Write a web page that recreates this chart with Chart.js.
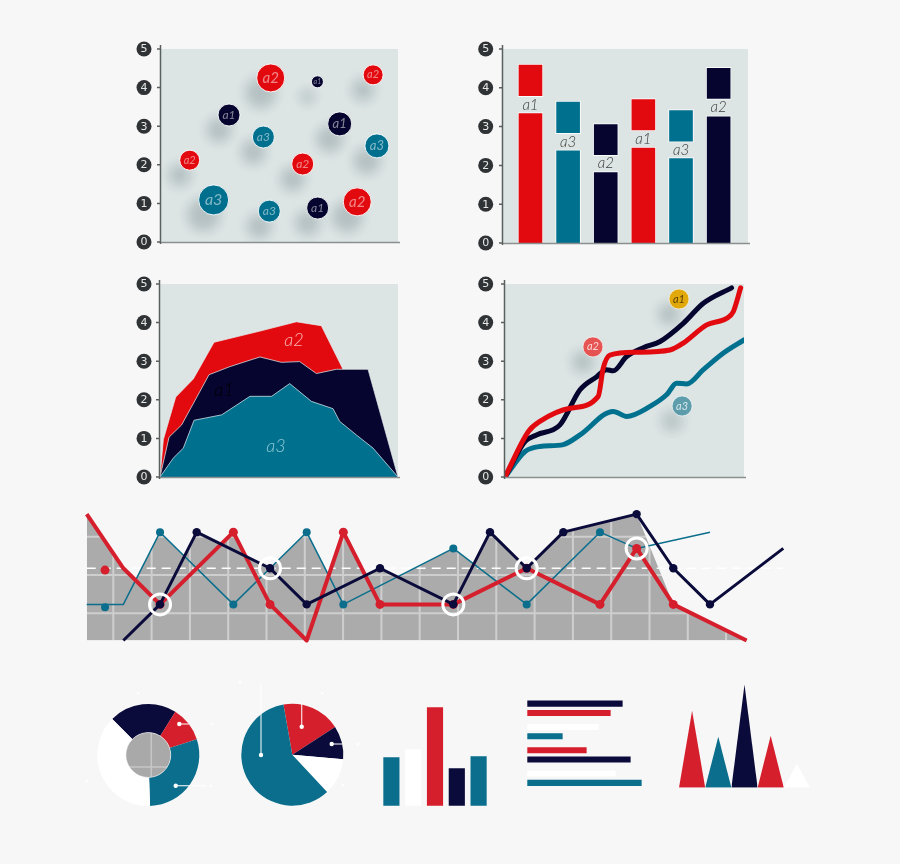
<!DOCTYPE html>
<html>
<head>
<meta charset="utf-8">
<script src="https://cdn.jsdelivr.net/npm/chart.js@4.4.0/dist/chart.umd.min.js"></script>
<style>
  html, body { margin: 0; padding: 0; background: #f7f7f7; }
  #stage { position: relative; width: 900px; height: 864px; overflow: hidden; background: #f7f7f7; }
  canvas { position: absolute; }
</style>
</head>
<body>
<div id="stage">
  <canvas id="bubbles" width="280" height="220" style="left:130px;top:35px"></canvas>
  <canvas id="splitBars" width="290" height="220" style="left:470px;top:35px"></canvas>
  <canvas id="areas" width="280" height="220" style="left:130px;top:272px"></canvas>
  <canvas id="curves" width="290" height="220" style="left:470px;top:272px"></canvas>
  <canvas id="zigzag" width="720" height="150" style="left:80px;top:500px"></canvas>
  <canvas id="donut" width="140" height="140" style="left:85px;top:680px"></canvas>
  <canvas id="pie" width="140" height="140" style="left:225px;top:680px"></canvas>
  <canvas id="smallBars" width="120" height="115" style="left:375px;top:695px"></canvas>
  <canvas id="hBars" width="130" height="95" style="left:520px;top:695px"></canvas>
  <canvas id="peaks" width="150" height="120" style="left:670px;top:675px"></canvas>
</div>
<script>
// ---- data ----
var yTicks = [0, 1, 2, 3, 4, 5];

// bubbles (top left)
var bubbleSeries = ['a2', 'a1', 'a2', 'a1', 'a1', 'a3', 'a3', 'a2', 'a2', 'a3', 'a3', 'a1', 'a2'];
var bubbleX = [4.63, 6.6, 8.95, 2.87, 7.54, 4.32, 9.11, 1.21, 5.98, 2.22, 4.57, 6.61, 8.28];
var bubbleY = [4.25, 4.15, 4.33, 3.29, 3.06, 2.72, 2.49, 2.12, 2.02, 1.09, 0.80, 0.88, 1.04];
var bubbleSize = [14, 6, 10, 11, 12, 11, 12, 10, 11, 15, 11, 11, 14];

// split bars (top right)
var barSeries = ['a1', 'a3', 'a2', 'a1', 'a3', 'a2'];
var barLower = [3.36, 2.40, 1.84, 2.47, 2.20, 3.28];
var barUpperFrom = [3.77, 2.82, 2.25, 2.89, 2.60, 3.70];
var barUpperTo = [4.61, 3.66, 3.08, 3.72, 3.44, 4.53];

// areas (middle left)
var a2AreaX = [0, 0.14, 0.66, 1.4, 2.27, 4.2, 5.73, 6.78, 7.69, 8.74, 10];
var a2AreaY = [0, 0.97, 2.07, 2.54, 3.49, 3.78, 4.02, 3.92, 2.79, 2.79, 0];
var a1AreaX = [0, 0.38, 0.91, 2.06, 2.94, 4.2, 5.1, 5.87, 6.57, 7.41, 8.74, 10];
var a1AreaY = [0, 1.03, 1.35, 2.65, 2.86, 3.11, 2.97, 2.99, 2.68, 2.79, 2.79, 0];
var a3AreaX = [0, 0.56, 0.98, 1.43, 2.59, 3.78, 4.69, 5.45, 6.36, 7.27, 7.55, 8.25, 8.95, 10];
var a3AreaY = [0, 0.49, 0.75, 1.47, 1.61, 2.09, 2.09, 2.42, 1.96, 1.77, 1.44, 1.09, 0.75, 0];
var areaTags = ['a2', 'a1', 'a3'];
var areaTagX = [5.63, 2.69, 4.87];
var areaTagY = [3.55, 2.25, 0.8];

// curves (middle right)
var a1CurveX = [0, 0.84, 1.32, 2.3, 3.14, 3.84, 4.25, 4.53, 5.09, 5.79, 6.49, 7.46, 8.3, 9.48];
var a1CurveY = [0, 0.92, 1.09, 1.35, 2.26, 2.6, 2.78, 2.75, 3.12, 3.35, 3.51, 3.98, 4.5, 4.9];
var a2CurveX = [0, 0.98, 1.46, 2.72, 3.9, 4.11, 4.39, 5.51, 6.9, 7.46, 8.44, 9.27, 9.55, 9.86];
var a2CurveY = [0, 1.18, 1.44, 1.78, 2.09, 2.82, 3.16, 3.23, 3.29, 3.47, 3.94, 4.11, 4.28, 4.9];
var a3CurveX = [0, 0.84, 1.46, 2.44, 3.14, 4.53, 5.09, 6.07, 6.76, 7.18, 7.6, 8.3, 9.14, 10];
var a3CurveY = [0, 0.66, 0.79, 0.84, 1.09, 1.7, 1.57, 1.83, 2.13, 2.43, 2.41, 2.78, 3.21, 3.55];
var badgeTags = ['a1', 'a2', 'a3'];
var badgeX = [7.28, 3.68, 7.41];
var badgeY = [4.61, 3.37, 1.84];

// zigzag lines (wide band)
var redK = [0, 1, 2, 4, 5, 6, 7, 8, 10, 12, 14, 15, 16, 18];
var redV = [3.5, 2, 1, 3, 1, 0, 3, 1, 1, 2, 1, 2.55, 1, 0];
var redDots = [0, 0, 1, 1, 1, 0, 1, 1, 1, 1, 1, 1, 1, 0];
var navyK = [1, 2, 3, 5, 6, 8, 10, 11, 12, 13, 15, 16, 17, 19];
var navyV = [0, 1, 3, 2, 1, 2, 1, 3, 2, 3, 3.5, 2, 1, 2.55];
var navyDots = [0, 1, 1, 1, 1, 1, 1, 1, 1, 1, 1, 1, 1, 0];
var tealK = [0, 1, 2, 4, 5, 6, 7, 10, 12, 14, 15, 17];
var tealV = [1, 1, 3, 1, 2, 3, 1, 2.55, 1, 3, 2.55, 3];
var tealDots = [0, 0, 1, 1, 0, 1, 1, 1, 1, 1, 0, 0];
var ringK = [2, 5, 10, 12, 15];
var ringV = [1, 2, 1, 2, 2.55];
var strayRedK = [0.5], strayRedV = [1.95];
var strayTealK = [0.5], strayTealV = [0.92];
var grayK = [0, 1, 1.33, 2, 2.67, 3, 3.67, 4, 4.33, 5, 6, 6.6, 7, 7.6, 8, 8.47, 10, 10.56, 11, 12, 13, 15, 16, 18];
var grayV = [3.5, 2, 1.67, 3, 2.33, 3, 2.67, 3, 2.33, 2, 3, 1.8, 3, 1.8, 2, 1.76, 2.55, 2.12, 3, 2, 3, 3.5, 1, 0];
var dashedLevel = 2;

// bottom row
var donutParts = ['navy', 'red', 'teal', 'white'];
var donutVals = [77, 40, 106, 137];
var pieParts = ['red', 'navy', 'white', 'teal'];
var pieVals = [67, 38, 42, 213];
var smallBarCats = ['A', 'B', 'C', 'D', 'E'];
var smallBarVals = [4.8, 5.6, 9.8, 3.7, 4.9];
var hBarVals = [9.5, 8.3, 7.1, 3.5, 5.9, 10.3, 8.8, 11.4];
var hBarRows = [0, 1, 2.5, 3.5, 5, 6, 7.5, 8.5];
var peakVals = [7.7, 5.1, 10.3, 5.2, 2.4];

// ---- style ----
var RED = '#e30a0f', NAVY = '#05052f', TEAL = '#00708f', PANEL = '#dce4e4';
var RED2 = '#d61f2c', NAVY2 = '#0b0b3b', TEAL2 = '#0a6e8c', GRAY = '#ababab', WHITE = '#ffffff';
var tagColor = { a1: NAVY, a2: RED, a3: TEAL };
var partColor = { navy: NAVY2, red: RED2, teal: TEAL2, white: WHITE };
var barColors = [RED, TEAL, NAVY, RED, TEAL, NAVY];
var badgeColors = ['#e2a90d', '#e65353', 'rgba(70,145,162,0.85)'];
var badgeText = ['#5a3f00', 'rgba(255,255,255,0.75)', 'rgba(255,255,255,0.75)'];
var smallBarColors = [TEAL2, WHITE, RED2, NAVY2, TEAL2];
var hBarColors = [NAVY2, RED2, WHITE, TEAL2, RED2, NAVY2, WHITE, TEAL2];
var peakColors = [RED2, TEAL2, NAVY2, RED2, WHITE];
var SCRIPT = '"Lato", "DejaVu Sans", sans-serif';

Chart.defaults.responsive = false;
Chart.defaults.animation = false;
Chart.defaults.events = [];
Chart.defaults.layout.autoPadding = false;
Chart.defaults.plugins.legend.display = false;
Chart.defaults.plugins.tooltip.enabled = false;

function pts(xs, ys) {
    return xs.map(function (x, i) { return { x: x, y: ys[i] }; });
}

function hidden(min, max, extra) {
    return Object.assign({ type: 'linear', display: false, min: min, max: max, offset: false }, extra || {});
}

// panel background + round tick badges on the y axis
function panelAxis(circleX) {
    return {
        id: 'panelAxis',
        beforeDatasetsDraw: function (chart) {
            var ctx = chart.ctx, a = chart.chartArea;
            ctx.save();
            ctx.fillStyle = PANEL;
            ctx.fillRect(a.left, a.top, a.right - a.left, a.bottom - a.top);
            ctx.restore();
        },
        afterDraw: function (chart) {
            var ctx = chart.ctx, a = chart.chartArea, ys = chart.scales.y;
            ctx.save();
            ctx.strokeStyle = '#8a8f90';
            ctx.lineWidth = 1.5;
            ctx.beginPath();
            ctx.moveTo(a.left, a.bottom + 0.5);
            ctx.lineTo(a.right + 2, a.bottom + 0.5);
            ctx.stroke();
            ctx.strokeStyle = '#5a5f60';
            ctx.beginPath();
            ctx.moveTo(a.left - 0.5, a.top - 4);
            ctx.lineTo(a.left - 0.5, a.bottom + 2);
            yTicks.forEach(function (v) {
                var y = ys.getPixelForValue(v);
                ctx.moveTo(a.left - 4, y);
                ctx.lineTo(a.left, y);
            });
            ctx.stroke();
            yTicks.forEach(function (v) {
                var y = ys.getPixelForValue(v);
                ctx.fillStyle = '#2f3335';
                ctx.beginPath();
                ctx.arc(circleX, y, 7.5, 0, Math.PI * 2);
                ctx.fill();
                ctx.fillStyle = '#e8e8e8';
                ctx.font = '11px "DejaVu Sans"';
                ctx.textAlign = 'center';
                ctx.textBaseline = 'middle';
                ctx.fillText(String(v), circleX, y + 0.5);
            });
            ctx.restore();
        }
    };
}

// long soft shadow under bubbles
var softShadow = {
    id: 'softShadow',
    beforeDatasetDraw: function (chart, args) {
        if (!chart.data.datasets[args.index].shadow) return;
        var ctx = chart.ctx;
        ctx.save();
        ctx.shadowColor = 'rgba(40,70,75,0.22)';
        ctx.shadowBlur = 12;
        ctx.shadowOffsetX = -10;
        ctx.shadowOffsetY = 15;
    },
    afterDatasetDraw: function (chart, args) {
        if (!chart.data.datasets[args.index].shadow) return;
        chart.ctx.restore();
    }
};

// text written inside bubbles
var bubbleText = {
    id: 'bubbleText',
    afterDatasetsDraw: function (chart) {
        var ctx = chart.ctx;
        chart.data.datasets.forEach(function (ds, di) {
            if (!ds.tags) return;
            chart.getDatasetMeta(di).data.forEach(function (el, i) {
                var r = el.options.radius;
                ctx.save();
                ctx.font = 'italic ' + Math.max(7, Math.round(r * 1.05)) + 'px ' + SCRIPT;
                ctx.fillStyle = ds.tagInk[i];
                ctx.textAlign = 'center';
                ctx.textBaseline = 'middle';
                ctx.fillText(ds.tags[i], el.x, el.y);
                ctx.restore();
            });
        });
    }
};

// ---- 1. bubbles ----
new Chart(document.getElementById('bubbles'), {
    type: 'bubble',
    data: {
        datasets: [{
            data: bubbleX.map(function (x, i) { return { x: x, y: bubbleY[i], r: bubbleSize[i] }; }),
            backgroundColor: bubbleSeries.map(function (s) { return tagColor[s]; }),
            borderColor: 'rgba(255,255,255,0.9)',
            borderWidth: 1,
            shadow: true,
            tags: bubbleSeries,
            tagInk: bubbleSeries.map(function () { return 'rgba(255,255,255,0.5)'; })
        }]
    },
    options: {
        layout: { padding: { left: 31, top: 14, right: 12, bottom: 13 } },
        scales: { x: hidden(0, 10), y: hidden(0, 5) }
    },
    plugins: [panelAxis(14), softShadow, bubbleText]
});

// ---- 2. split bars ----
new Chart(document.getElementById('splitBars'), {
    type: 'bar',
    data: {
        datasets: [{
            data: barLower.map(function (v, i) { return { x: i, y: [0, v] }; }),
            backgroundColor: barColors,
            borderColor: 'rgba(255,255,255,0.85)',
            borderWidth: 1,
            borderSkipped: 'bottom',
            grouped: false,
            barThickness: 25
        }, {
            data: barUpperTo.map(function (v, i) { return { x: i, y: [barUpperFrom[i], v] }; }),
            backgroundColor: barColors,
            borderColor: 'rgba(255,255,255,0.85)',
            borderWidth: 1,
            borderSkipped: false,
            grouped: false,
            barThickness: 25
        }]
    },
    options: {
        layout: { padding: { left: 33, top: 14, right: 12, bottom: 12 } },
        scales: { x: hidden(-0.73, 5.78), y: hidden(0, 5) }
    },
    plugins: [panelAxis(15.7), {
        id: 'gapText',
        afterDatasetsDraw: function (chart) {
            var ctx = chart.ctx, xs = chart.scales.x, ys = chart.scales.y;
            ctx.save();
            ctx.font = 'italic 300 15px ' + SCRIPT;
            ctx.fillStyle = '#3a3a3a';
            ctx.textAlign = 'center';
            ctx.textBaseline = 'middle';
            barSeries.forEach(function (s, i) {
                ctx.fillText(s, xs.getPixelForValue(i), ys.getPixelForValue((barLower[i] + barUpperFrom[i]) / 2));
            });
            ctx.restore();
        }
    }]
});

// ---- 3. areas ----
function areaSet(xs, ys, color) {
    return {
        data: pts(xs, ys),
        backgroundColor: color,
        borderColor: 'rgba(230,245,245,0.7)',
        borderWidth: 1,
        fill: 'origin',
        pointRadius: 0,
        tension: 0
    };
}
new Chart(document.getElementById('areas'), {
    type: 'line',
    data: {
        datasets: [
            areaSet(a3AreaX, a3AreaY, TEAL),
            areaSet(a1AreaX, a1AreaY, NAVY),
            areaSet(a2AreaX, a2AreaY, RED)
        ]
    },
    options: {
        layout: { padding: { left: 30, top: 12, right: 12, bottom: 15 } },
        scales: { x: hidden(0, 10), y: hidden(0, 5) }
    },
    plugins: [panelAxis(14), {
        id: 'areaText',
        afterDatasetsDraw: function (chart) {
            var ctx = chart.ctx, xs = chart.scales.x, ys = chart.scales.y;
            var ink = { a2: 'rgba(255,220,220,0.8)', a1: '#000000', a3: 'rgba(200,235,240,0.7)' };
            ctx.save();
            ctx.font = 'italic 300 18px ' + SCRIPT;
            ctx.textAlign = 'center';
            ctx.textBaseline = 'middle';
            areaTags.forEach(function (t, i) {
                ctx.fillStyle = ink[t];
                ctx.fillText(t, xs.getPixelForValue(areaTagX[i]), ys.getPixelForValue(areaTagY[i]));
            });
            ctx.restore();
        }
    }]
});

// ---- 4. curves ----
function curveSet(xs, ys, color) {
    return {
        type: 'line',
        data: pts(xs, ys),
        borderColor: color,
        borderWidth: 5,
        borderCapStyle: 'round',
        borderJoinStyle: 'round',
        pointRadius: 0,
        fill: false,
        cubicInterpolationMode: 'monotone'
    };
}
new Chart(document.getElementById('curves'), {
    data: {
        datasets: [{
            type: 'bubble',
            data: badgeX.map(function (x, i) { return { x: x, y: badgeY[i], r: 10 }; }),
            backgroundColor: badgeColors,
            borderColor: 'rgba(255,255,255,0.6)',
            borderWidth: 1,
            shadow: true,
            tags: badgeTags,
            tagInk: badgeText
        },
            curveSet(a2CurveX, a2CurveY, RED),
            curveSet(a1CurveX, a1CurveY, NAVY),
            curveSet(a3CurveX, a3CurveY, TEAL)
        ]
    },
    options: {
        layout: { padding: { left: 35, top: 12, right: 16, bottom: 15 } },
        scales: { x: hidden(0, 10), y: hidden(0, 5) }
    },
    plugins: [panelAxis(15.7), softShadow, bubbleText]
});

// ---- 5. zigzag band ----
function zigSet(ks, vs, dots, color, width, dotR) {
    return {
        data: pts(ks, vs),
        borderColor: color,
        borderWidth: width,
        borderJoinStyle: 'round',
        pointRadius: dots.map(function (d) { return d ? dotR : 0; }),
        pointBackgroundColor: color,
        pointBorderWidth: 0,
        fill: false,
        tension: 0,
        clip: false
    };
}
function dotSet(ks, vs, color, r) {
    return {
        data: pts(ks, vs), showLine: false, pointRadius: r,
        pointBackgroundColor: color, pointBorderWidth: 0, clip: false
    };
}
var GRAY_INDEX = 6;
new Chart(document.getElementById('zigzag'), {
    type: 'line',
    data: {
        datasets: [
            {
                data: pts(ringK, ringV), showLine: false, pointRadius: 10.5,
                pointBackgroundColor: 'rgba(0,0,0,0)', pointBorderColor: '#ffffff',
                pointBorderWidth: 3, clip: false
            },
            dotSet(strayRedK, strayRedV, RED2, 4.5),
            dotSet(strayTealK, strayTealV, TEAL2, 4),
            zigSet(navyK, navyV, navyDots, NAVY2, 3, 4.2),
            zigSet(redK, redV, redDots, RED2, 4, 4.5),
            zigSet(tealK, tealV, tealDots, TEAL2, 1.5, 4),
            {
                data: pts(grayK, grayV), borderWidth: 0, pointRadius: 0,
                backgroundColor: GRAY, fill: 'origin', tension: 0
            }
        ]
    },
    options: {
        layout: { padding: { left: 6.7, top: 10.5, right: 16.7, bottom: 9.5 } },
        scales: { x: hidden(0, 19), y: hidden(0, 3.6) }
    },
    plugins: [{
        id: 'grayGrid',
        afterDatasetDraw: function (chart, args) {
            if (args.index !== GRAY_INDEX) return;
            var ctx = chart.ctx, a = chart.chartArea;
            ctx.save();
            ctx.globalCompositeOperation = 'source-atop';
            ctx.strokeStyle = 'rgba(255,255,255,0.42)';
            ctx.lineWidth = 2;
            ctx.beginPath();
            for (var x = 33.3; x < a.right; x += 38.3) {
                ctx.moveTo(x, a.top - 5);
                ctx.lineTo(x, a.bottom);
            }
            [36.7, 75, 113.3].forEach(function (y) {
                ctx.moveTo(a.left, y);
                ctx.lineTo(a.right, y);
            });
            ctx.stroke();
            ctx.restore();
            var yd = chart.scales.y.getPixelForValue(dashedLevel);
            ctx.save();
            ctx.strokeStyle = '#ffffff';
            ctx.lineWidth = 1.6;
            ctx.setLineDash([9, 6]);
            ctx.beginPath();
            ctx.moveTo(a.left, yd);
            ctx.lineTo(a.right, yd);
            ctx.stroke();
            ctx.restore();
        }
    }]
});

// ---- 6/7. donut & pie ----
function pieDecor(offX, offY, leaders, faint, hole) {
    return {
        id: 'pieDecor',
        afterDatasetsDraw: function (chart) {
            var ctx = chart.ctx;
            var arc = chart.getDatasetMeta(0).data[0];
            ctx.save();
            if (hole) {
                var r = arc.innerRadius;
                ctx.fillStyle = '#a9a9a9';
                ctx.beginPath();
                ctx.arc(arc.x, arc.y, r, 0, Math.PI * 2);
                ctx.fill();
                ctx.save();
                ctx.clip();
                ctx.strokeStyle = 'rgba(255,255,255,0.35)';
                ctx.lineWidth = 1.5;
                ctx.beginPath();
                ctx.moveTo(arc.x + 3, arc.y - r);
                ctx.lineTo(arc.x + 3, arc.y + r);
                ctx.moveTo(arc.x - r, arc.y + 12);
                ctx.lineTo(arc.x + r, arc.y + 12);
                ctx.stroke();
                ctx.restore();
                ctx.strokeStyle = 'rgba(255,255,255,0.5)';
                ctx.lineWidth = 1;
                ctx.beginPath();
                ctx.arc(arc.x, arc.y, r, 0, Math.PI * 2);
                ctx.stroke();
            }
            ctx.strokeStyle = 'rgba(255,255,255,0.85)';
            ctx.fillStyle = '#ffffff';
            ctx.lineWidth = 1.2;
            leaders.forEach(function (l) {
                ctx.beginPath();
                ctx.moveTo(l[0] - offX, l[1] - offY);
                ctx.lineTo(l[2] - offX, l[3] - offY);
                ctx.stroke();
                ctx.beginPath();
                ctx.arc(l[0] - offX, l[1] - offY, 2.2, 0, Math.PI * 2);
                ctx.fill();
            });
            faint.forEach(function (p) {
                ctx.beginPath();
                ctx.arc(p[0] - offX, p[1] - offY, 1.3, 0, Math.PI * 2);
                ctx.fill();
            });
            ctx.restore();
        }
    };
}
new Chart(document.getElementById('donut'), {
    type: 'doughnut',
    data: {
        labels: donutParts,
        datasets: [{
            data: donutVals,
            backgroundColor: donutParts.map(function (p) { return partColor[p]; }),
            borderWidth: 0, hoverOffset: 0, offset: 0
        }]
    },
    options: {
        cutout: '44%',
        rotation: -45,
        layout: { padding: { left: 12.3, top: 24, right: 25.7, bottom: 14 } }
    },
    plugins: [pieDecor(85, 680,
        [[179.3, 724, 189, 724], [175.7, 785.7, 206, 785.7]],
        [[138.3, 693.3], [211.7, 724], [211, 785.7], [86.7, 781]], true)]
});
new Chart(document.getElementById('pie'), {
    type: 'pie',
    data: {
        labels: pieParts,
        datasets: [{
            data: pieVals,
            backgroundColor: pieParts.map(function (p) { return partColor[p]; }),
            borderWidth: 0, hoverOffset: 0, offset: 0
        }]
    },
    options: {
        rotation: -10,
        layout: { padding: { left: 16.3, top: 23.7, right: 21.7, bottom: 14.3 } }
    },
    plugins: [pieDecor(225, 680,
        [[261, 755, 261, 683], [301.7, 726.7, 301.7, 703], [331.7, 744, 342, 744]],
        [[240, 682.3], [322.3, 693.3], [357.7, 744.3], [343.3, 785]], false)]
});

// ---- 8. small bars ----
new Chart(document.getElementById('smallBars'), {
    type: 'bar',
    data: {
        labels: smallBarCats,
        datasets: [{ data: smallBarVals, backgroundColor: smallBarColors, barThickness: 15.5, borderWidth: 0 }]
    },
    options: {
        layout: { padding: { left: 5.5, top: 10.7, right: 5.5, bottom: 4.3 } },
        scales: { x: { display: false }, y: hidden(0, 10) }
    }
});

// ---- 9. horizontal bars ----
new Chart(document.getElementById('hBars'), {
    type: 'bar',
    data: {
        datasets: [{
            data: hBarVals.map(function (v, i) { return { x: v, y: hBarRows[i] }; }),
            backgroundColor: hBarColors, barThickness: 5.5, borderWidth: 0
        }]
    },
    options: {
        indexAxis: 'y',
        layout: { padding: { left: 7.3, top: 4.05, right: 2.7, bottom: 2.55 } },
        scales: { x: hidden(0, 12), y: hidden(-0.5, 9, { reverse: true }) }
    }
});

// ---- 10. peaks ----
new Chart(document.getElementById('peaks'), {
    type: 'line',
    data: {
        datasets: peakVals.map(function (h, i) {
            return {
                data: [{ x: i, y: 0 }, { x: i + 0.5, y: h }, { x: i + 1, y: 0 }],
                backgroundColor: peakColors[i], borderWidth: 0, pointRadius: 0,
                fill: 'origin', tension: 0
            };
        })
    },
    options: {
        layout: { padding: { left: 9, top: 2.7, right: 10, bottom: 7.3 } },
        scales: { x: hidden(0, 5), y: hidden(0, 11) }
    }
});
</script>
</body>
</html>
